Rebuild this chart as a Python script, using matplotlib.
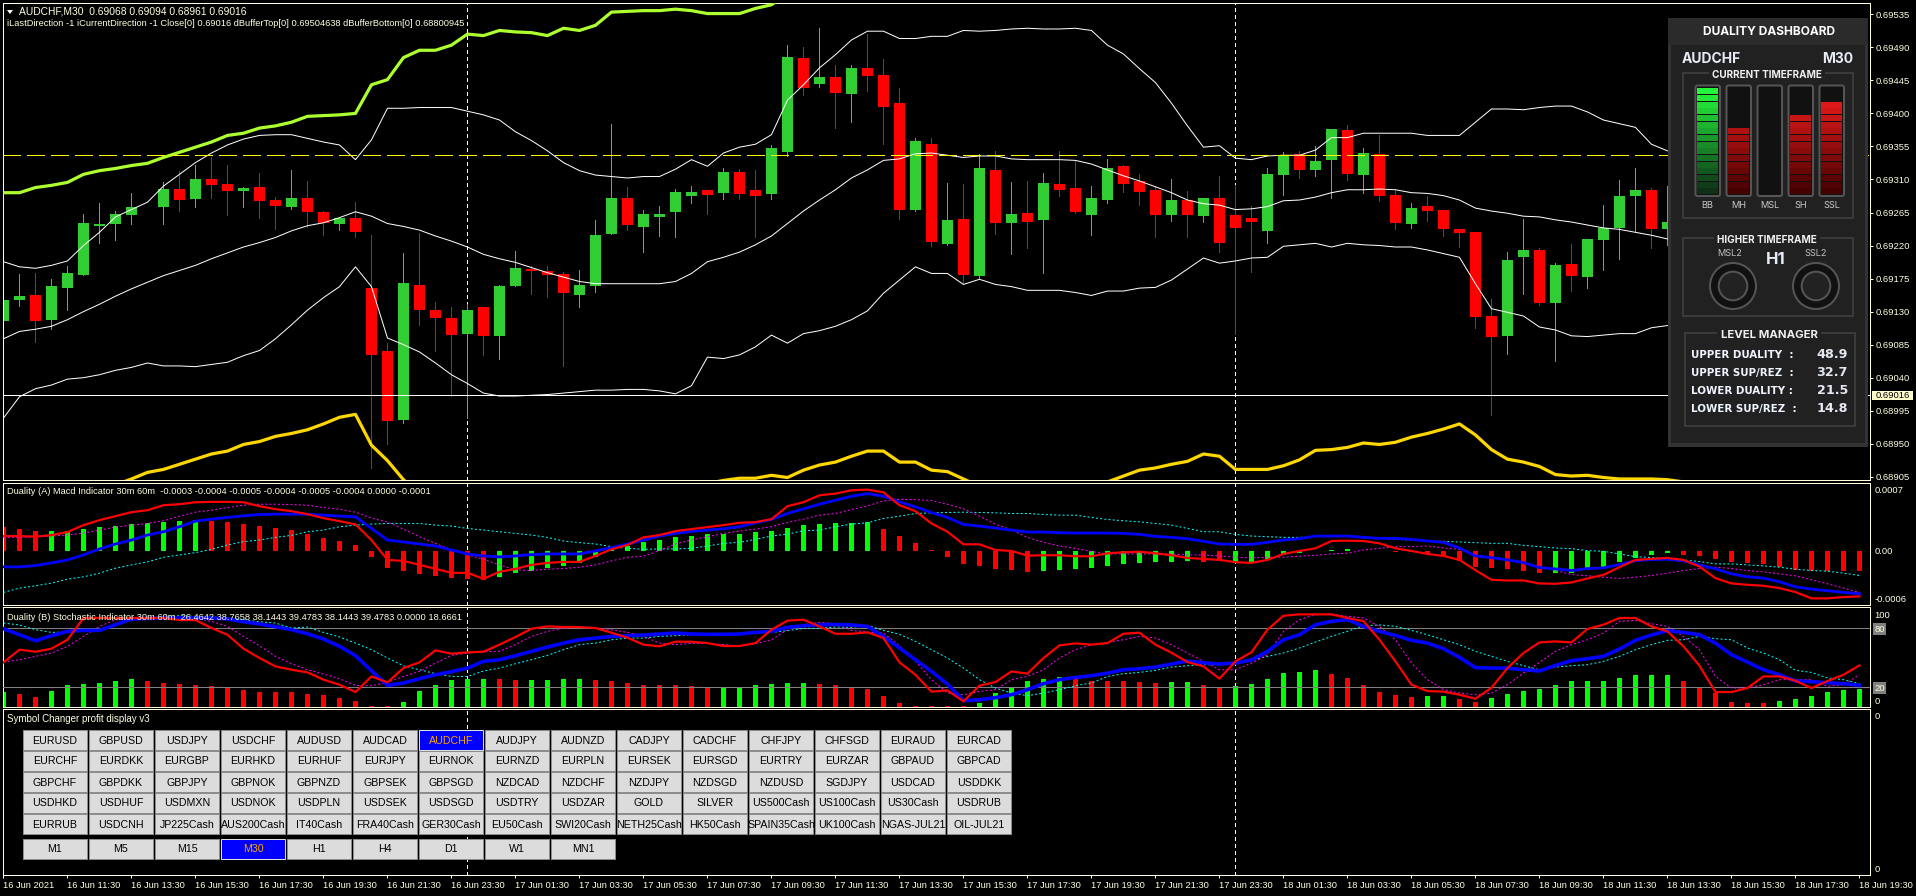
import numpy as np
import matplotlib
matplotlib.use('AGG')
import matplotlib.pyplot as plt
from matplotlib.patches import Rectangle, Circle, FancyBboxPatch, Polygon

W, H = 1916, 896
nan = np.nan

# candles, in 1e-5 price points (bars 0..104, the rest sits behind the dashboard)
candle_open = [
    69117,69146,69153,69119,69162,69180,69247,69249,69262,nan,69273,69297,69283,69311,69304,69294,69300,69282,69272,69285,69266,69249,69258,69162,69076,68982,69166,69132,69121,69100,69136,69097,69165,69188,69185,69181,69153,69165,69236,69285,
    69245,69259,69266,69287,69296,69292,69320,69296,69290,69347,69475,69440,69450,69426,69462,69452,69414,69268,69358,69222,69256,69179,69323,69251,69264,69255,69304,69298,69262,69282,69328,69308,69296,69262,69282,69260,69285,69262,69258,69240,
    69316,69345,69323,69337,69377,69316,69345,69289,69249,69274,69268,69243,69238,69124,69097,69204,69214,69142,69195,69177,69228,69244,69287,69296,69243]
candle_high = [
    69168,69181,69182,69174,69192,69263,69278,69267,69292,nan,69307,69322,69330,69340,69330,69300,69319,69286,69323,69308,69267,69258,69279,69234,69087,69210,69237,69143,69136,69140,69136,69166,69213,69192,69192,69184,69187,69255,69386,69300,
    69268,69274,69297,69301,69296,69326,69324,69323,69357,69493,69490,69516,69466,69466,69508,69474,69435,69367,69367,69305,69304,69345,69349,69307,69308,69319,69349,69335,69301,69338,69330,69317,69301,69311,69294,69285,69315,69302,69274,69326,
    69347,69349,69356,69379,69384,69353,69371,69296,69278,69287,69268,69243,69238,69147,69211,69256,69217,69196,69222,69229,69275,69309,69326,69298,69301]
candle_low = [
    69109,69138,69088,69106,69132,69180,69224,69228,69249,nan,69249,69267,69273,69285,69262,69273,69258,69243,69270,69245,69234,69241,69232,68917,68950,68978,69112,69076,69015,68985,69071,69065,69165,69154,69150,69056,69136,69157,69236,69241,
    69211,69233,69232,69278,69263,69283,69283,69232,69283,69342,69425,69436,69380,69388,69431,69358,69256,69267,69219,69221,69169,69174,69236,69208,69217,69183,69287,69264,69234,69278,69293,69275,69232,69254,69232,69252,69211,69100,69184,69223,
    69289,69312,69315,69285,69309,69292,69281,69243,69244,69254,69233,69218,69108,68989,69072,69154,69139,69063,69158,69162,69187,69202,69240,69217,69221]
candle_close = [
    69146,69151,69117,69165,69183,69251,69249,69263,69273,nan,69297,69282,69311,69302,69294,69298,69281,69274,69285,69266,69251,69258,69238,69071,68981,69169,69132,69121,69098,69132,69097,69165,69189,69185,69180,69155,69166,69234,69285,69248,
    69263,69263,69293,69293,69289,69320,69290,69287,69353,69477,69435,69450,69428,69462,69451,69409,69268,69362,69225,69255,69180,69326,69251,69263,69252,69305,69296,69266,69285,69326,69304,69293,69262,69282,69262,69285,69223,69244,69252,69317,
    69343,69323,69335,69379,69317,69346,69287,69251,69271,69267,69243,69237,69123,69095,69200,69214,69142,69194,69179,69229,69244,69287,69296,69243,69252]

# envelope lines on the price chart
duality_top = [
    69292,69292,69299,69302,69306,69317,69322,69325,69329,69332,69340,69347,69354,69361,69370,69373,69380,69383,69388,69396,69397,69398,69400,69439,69446,69476,69486,69486,69493,69508,69506,69513,69511,69510,69506,69516,69513,69520,69538,69539,
    69540,69540,69542,69540,69536,69536,69536,69543,69548,69564]
duality_bottom = [
    nan,nan,nan,nan,nan,nan,nan,68894,68902,68911,68915,68922,68929,68936,68940,68949,68953,68960,68964,68969,68977,68986,68990,68948,68927,68901,68882,nan,nan,nan,nan,nan,nan,nan,nan,nan,nan,nan,nan,nan,
    nan,nan,nan,nan,68896,68900,68903,68903,68907,68904,68914,68921,68925,68933,68940,68940,68925,68925,68914,68912,68902,68892,nan,nan,nan,nan,nan,nan,68893,68898,68906,68914,68917,68922,68926,68936,68933,68915,68915,68915,
    68920,68928,68941,68942,68945,68951,68949,68952,68959,68964,68970,68977,68962,68942,68929,68925,68919,68908,68906,68907,68904,68902,68902,68902,68901,68898]
bb_upper = [
    69198,69191,69189,69193,69199,69220,69238,69259,69269,69279,69301,69317,69333,69346,69357,69365,69370,69371,69371,69366,69361,69357,69337,69364,69407,69407,69408,69408,69408,69403,69398,69391,69375,69363,69349,69333,69322,69316,69314,69312,
    69314,69314,69324,69337,69328,69346,69354,69358,69371,69418,69439,69462,69480,69500,69512,69512,69502,69502,69505,69505,69513,69512,69513,69515,69516,69515,69515,69516,69513,69493,69481,69461,69442,69414,69383,69354,69356,69339,69337,69342,
    69343,69343,69350,69367,69367,69373,69373,69373,69373,69370,69370,69370,69388,69406,69406,69405,69408,69410,69410,69402,69391,69386,69381,69358,69349]
bb_middle = [
    69093,69103,69106,69110,69119,69130,69140,69151,69161,69170,69179,69186,69193,69202,69210,69218,69224,69231,69240,69247,69251,69258,69266,69260,69250,69246,69241,69233,69226,69218,69208,69202,69197,69190,69183,69177,69171,69168,69168,69168,
    69168,69168,69171,69182,69198,69204,69211,69221,69233,69250,69267,69282,69296,69312,69323,69336,69338,69345,69346,69343,69340,69342,69342,69338,69337,69337,69337,69336,69331,69323,69315,69308,69300,69292,69282,69277,69275,69269,69270,69273,
    69281,69282,69286,69292,69296,69296,69297,69296,69292,69291,69288,69282,69271,69267,69264,69260,69259,69255,69252,69248,69244,69242,69238,69234,69229]
bb_lower = [
    68985,69014,69025,69030,69038,69040,69044,69050,69054,69060,69056,69056,69055,69058,69061,69070,69077,69093,69112,69132,69149,69164,69191,69164,69094,69085,69075,69060,69044,69032,69019,69015,69015,69016,69017,69019,69021,69023,69023,69024,
    69024,69022,69018,69029,69068,69066,69071,69082,69098,69087,69100,69104,69110,69119,69131,69155,69173,69191,69182,69182,69167,69174,69167,69164,69159,69159,69159,69156,69152,69158,69158,69162,69163,69173,69188,69203,69196,69199,69203,69204,
    69219,69221,69223,69218,69223,69221,69220,69218,69218,69214,69209,69204,69168,69134,69129,69124,69109,69105,69097,69096,69098,69100,69100,69108,69111]

# macd panel, in 1e-6
macd_hist = [
    288,264,240,240,240,264,288,300,324,336,348,360,372,360,348,324,300,276,252,204,156,120,72,-72,-200,-240,-276,-300,-324,-336,-348,-312,-264,-240,-204,-180,-144,-72,24,60,
    108,132,168,180,204,204,204,228,240,276,312,324,336,336,348,264,180,96,12,-72,-156,-180,-216,-228,-252,-240,-228,-216,-204,-180,-156,-144,-132,-132,-120,-132,-120,-132,-132,-96,
    -48,-24,-6,8,24,-4,4,-8,-12,-36,-60,-120,-192,-204,-216,-240,-264,-264,-264,-228,-192,-132,-84,-48,-24,-48,-60,-96,-132,-144,-156,-192,-228,-240,-240,-240,-240]
macd_hist_dir = 'r'*3 + 'g'*10 + 'r'*18 + 'g'*24 + 'r'*10 + 'g'*10 + 'r'*2 + 'g'*8 + 'r'*12 + 'g'*8 + 'r'*12
macd_blue = [
    -192,-192,-176,-144,-108,-48,24,84,132,192,232,292,360,384,404,424,440,444,444,444,432,420,412,272,132,108,84,60,12,-36,-60,-72,-60,-44,-36,-36,-36,0,40,84,
    132,180,212,236,252,268,292,340,380,452,508,564,612,660,692,660,592,532,464,404,320,300,276,252,228,228,220,216,216,216,212,200,176,164,148,116,84,80,80,104,
    132,148,180,180,180,164,152,152,140,120,104,36,-60,-80,-108,-140,-200,-216,-236,-212,-204,-164,-116,-104,-100,-120,-168,-216,-276,-312,-328,-372,-432,-460,-480,-500,-516]
macd_red = [
    180,180,172,192,228,312,372,420,468,492,552,564,588,592,592,588,540,504,480,444,396,360,320,132,-108,-120,-168,-216,-264,-264,-336,-252,-216,-168,-144,-132,-132,-60,20,72,
    164,192,240,264,288,312,340,348,384,540,588,672,692,732,740,708,552,480,332,232,80,80,12,0,-56,-52,-52,-64,-64,-28,-16,-8,-28,-52,-84,-96,-108,-136,-144,-108,
    -36,0,32,120,124,120,92,32,0,-36,-60,-108,-232,-348,-356,-356,-392,-396,-380,-332,-288,-196,-108,-96,-84,-108,-188,-328,-392,-408,-420,-448,-496,-572,-572,-556,-548]
macd_magenta = [
    164,164,172,180,192,216,252,288,312,332,364,420,468,492,524,552,564,564,560,552,524,504,468,396,348,264,172,92,12,-48,-100,-168,-228,-236,-220,-212,-196,-168,-120,-76,
    -64,4,84,132,172,212,240,264,292,344,384,432,452,500,544,604,624,620,608,564,508,420,324,252,164,104,60,32,-8,-36,-36,-36,-36,-36,-48,-48,-60,-76,-84,-76,
    -76,-64,-52,-36,-28,12,32,52,52,60,36,20,-52,-76,-108,-144,-180,-236,-284,-300,-316,-332,-316,-296,-268,-236,-212,-196,-212,-236,-252,-276,-300,-348,-396,-448,-500]
macd_cyan = [
    -500,-448,-420,-388,-340,-312,-268,-208,-168,-132,-76,-48,-20,20,72,112,132,164,188,232,252,292,312,324,332,332,332,312,300,272,252,232,212,192,164,120,100,84,52,32,
    20,24,24,32,60,92,104,140,180,204,244,252,292,324,340,392,420,452,460,464,468,464,460,452,452,440,432,432,404,380,364,352,332,312,272,232,232,200,180,172,
    164,164,172,180,180,164,152,140,132,120,116,108,100,92,92,68,52,36,28,4,-4,-36,-68,-80,-92,-108,-128,-156,-156,-168,-180,-196,-220,-236,-244,-268,-296]

# stochastic panel
stoch_hist = [
    15.3,13.2,10.2,16.3,22.4,23.4,24.4,26.4,28.5,26.4,24.4,23.4,22.4,21.4,19.3,17.3,15.3,15.3,15.3,13.2,12.2,9.2,6.1,1.0,1.0,5.1,16.3,22.4,27.5,28.5,28.5,28.5,27.5,27.5,27.5,28.5,28.5,27.5,26.4,24.4,
    22.4,22.4,22.4,21.4,19.3,19.3,19.3,22.4,23.4,24.4,24.4,23.4,22.4,19.3,18.3,11.2,4.1,1.0,1.0,1.0,1.0,4.1,14.2,19.3,26.4,28.5,30.5,28.5,26.4,26.4,26.4,25.4,24.4,25.4,25.4,22.4,19.3,21.4,23.4,28.5,
    34.6,35.6,37.6,33.6,29.5,22.4,15.3,12.2,10.2,11.2,11.2,8.1,5.1,9.2,13.2,16.3,18.3,22.4,26.4,26.4,26.4,29.5,32.5,32.5,32.5,26.4,19.3,14.2,5.1,4.1,4.1,6.1,8.1,11.2,15.3,17.3,18.3]
stoch_hist_dir = 'g' + 'r'*2 + 'g'*6 + 'r'*16 + 'g'*6 + 'r'*2 + 'g'*4 + 'r'*8 + 'g'*6 + 'r'*10 + 'g'*6 + 'r'*6 + 'g'*2 + 'r'*2 + 'g'*6 + 'r'*6 + 'g'*2 + 'r'*2 + 'g'*12 + 'r'*6 + 'g'*6
stoch_blue = [
    79.3,73.2,67.1,72.2,76.6,77.6,77.6,83.4,89.2,89.8,90.2,90.2,90.2,90.2,89.2,86.4,84.1,81.4,78.3,74.2,68.8,61.4,51.9,36.6,21.7,24.1,28.5,32.5,35.6,39.3,46.1,47.8,51.9,56.3,60.7,64.7,68.1,69.8,71.5,72.2,
    72.9,73.9,74.9,73.9,73.6,73.6,73.9,75.6,76.6,80.7,82.4,83.1,83.7,83.1,81.7,71.5,59.7,47.8,35.9,23.1,6.1,7.1,9.2,12.2,17.3,23.4,27.5,29.8,31.5,34.2,37.6,38.6,40.3,43.4,46.4,44.7,43.4,44.4,47.5,56.3,
    68.1,73.2,83.4,86.8,88.5,81.7,76.6,72.5,67.5,64.7,59.0,50.2,39.7,39.3,39.3,37.6,36.3,42.0,46.8,48.8,51.2,58.6,67.5,72.9,77.3,75.6,73.2,64.7,52.9,45.4,37.6,32.5,26.1,25.4,24.4,23.4,21.7]
stoch_red = [
    45.1,58,55.9,59,68.1,90.2,90.2,90.2,90.2,90.2,90.2,88.1,88.1,80,73.2,59,49.5,41,37.6,34.9,27.5,22.4,14.9,30.8,24.7,39.3,45.1,57.3,53.9,55.3,55.9,63.1,70.9,79.3,81.7,81,81,80,75.3,70.2,
    63.1,61.4,66.1,66.1,64.7,61.7,61.7,64.7,78.3,87.5,88.5,81.7,74.2,74.2,75.6,69.8,45.1,32.5,15.3,16.6,5.4,21.4,25.1,35.9,33.6,49.5,62.4,64.4,63.1,64.7,74.2,75.3,63.1,54.9,45.4,41,28.5,46.1,55.3,78.3,
    92.5,93.9,93.9,93.9,90.2,87.1,68.1,46.1,22.4,15.9,15.3,12.2,8.1,19.3,39.3,54.6,65.4,66.4,65.4,79,83.4,90.2,90.2,81.7,76.6,61.4,41.7,14.9,14.9,19,30.8,30.8,26.4,19,26.1,32.5,42]
stoch_magenta = [
    45.4,47.8,51.2,54.6,61.4,71.5,81.7,88.5,88.5,90.2,90.2,90.2,90.2,86.8,81.7,71.5,62,51.2,43.7,37.6,33.2,28.5,21.7,21.4,24.7,30.8,35.9,44.4,52.2,54.6,55.9,56.3,63.1,71.5,76.6,80,81,80.3,78.3,75.6,
    71.5,64.7,63.1,64.4,64.4,63.1,61.7,64.1,68.1,78.3,83.4,85.8,84.4,77.6,75.9,74.9,62,46.1,27.5,13.9,12.2,15.6,17.3,27.5,30.8,37.6,49.5,58,63.1,65.4,68.1,71.5,69.8,63.1,54.6,46.1,37.6,37.6,44.4,52.9,
    76.6,88.5,93.6,94.2,91.9,90.2,81.7,68.1,44.4,27.5,17.3,13.9,12.2,13.9,22.4,34.2,45.1,56.3,63.1,68.1,74.9,86.8,87.8,84.4,81.7,71.5,58,30.8,19,19,22.4,27.5,27.5,27.5,20.7,22.4,32.5]
stoch_cyan = [
    85.1,83.1,78.3,75.6,75.9,77.6,79,83.4,88.5,89.2,91.9,92.5,91.9,91.2,90.5,88.5,86.4,85.1,80,81,75.6,70.9,64.7,58,49.5,41.7,37.6,33.6,30.8,30.8,36.3,39.3,43.7,47.8,52.2,58,63.1,64.7,68.1,69.8,
    69.8,71.5,72.2,73.2,72.9,74.2,74.2,74.9,75.6,77.3,79.7,79.7,81,80.7,82.7,77.6,73.6,66.4,58,49.5,39.3,27.5,19,13.9,11.2,13.9,17.3,21.4,24.1,30.8,33.6,34.9,37,40.3,41.7,42.7,42.7,44.4,47.5,51.2,
    54.6,59.7,65.8,71.5,76.6,82.4,83.1,81.7,77.6,73.2,68.1,63.1,56.3,51.2,46.1,41.7,37.6,40.3,41.7,42.7,46.1,51.2,58,63.1,67.5,68.1,71.5,69.2,68.1,59.7,54.6,47.8,37,34.9,29.2,27.5,23.4]

price_ticks = [0.69535, 0.69490, 0.69445, 0.69400, 0.69355, 0.69310, 0.69265, 0.69220, 0.69175,
               0.69130, 0.69085, 0.69040, 0.68995, 0.68950, 0.68905]
time_labels = ['16 Jun 2021', '16 Jun 11:30', '16 Jun 13:30', '16 Jun 15:30', '16 Jun 17:30', '16 Jun 19:30',
               '16 Jun 21:30', '16 Jun 23:30', '17 Jun 01:30', '17 Jun 03:30', '17 Jun 05:30', '17 Jun 07:30',
               '17 Jun 09:30', '17 Jun 11:30', '17 Jun 13:30', '17 Jun 15:30', '17 Jun 17:30', '17 Jun 19:30',
               '17 Jun 21:30', '17 Jun 23:30', '18 Jun 01:30', '18 Jun 03:30', '18 Jun 05:30', '18 Jun 07:30',
               '18 Jun 09:30', '18 Jun 11:30', '18 Jun 13:30', '18 Jun 15:30', '18 Jun 17:30', '18 Jun 19:30']

symbols = [
    ['EURUSD','GBPUSD','USDJPY','USDCHF','AUDUSD','AUDCAD','AUDCHF','AUDJPY','AUDNZD','CADJPY','CADCHF','CHFJPY','CHFSGD','EURAUD','EURCAD'],
    ['EURCHF','EURDKK','EURGBP','EURHKD','EURHUF','EURJPY','EURNOK','EURNZD','EURPLN','EURSEK','EURSGD','EURTRY','EURZAR','GBPAUD','GBPCAD'],
    ['GBPCHF','GBPDKK','GBPJPY','GBPNOK','GBPNZD','GBPSEK','GBPSGD','NZDCAD','NZDCHF','NZDJPY','NZDSGD','NZDUSD','SGDJPY','USDCAD','USDDKK'],
    ['USDHKD','USDHUF','USDMXN','USDNOK','USDPLN','USDSEK','USDSGD','USDTRY','USDZAR','GOLD','SILVER','US500Cash','US100Cash','US30Cash','USDRUB'],
    ['EURRUB','USDCNH','JP225Cash','AUS200Cash','IT40Cash','FRA40Cash','GER30Cash','EU50Cash','SWI20Cash','NETH25Cash','HK50Cash','SPAIN35Cash','UK100Cash','NGAS-JUL21','OIL-JUL21'],
]
timeframes = ['M1', 'M5', 'M15', 'M30', 'H1', 'H4', 'D1', 'W1', 'MN1']

gauge_names = ['BB', 'MH', 'MSL', 'SH', 'SSL']
gauge_levels = [16, 10, 0, 12, 14]
level_names = ['UPPER DUALITY  :', 'UPPER SUP/REZ  :', 'LOWER DUALITY :', 'LOWER SUP/REZ  :']
level_values = ['48.9', '32.7', '21.5', '14.8']

CREAM = '#FFFFE0'
PX = 0.72  # one pixel in points at dpi 100
DOTS = (0, (2, 2.2))

plt.rcParams['font.family'] = ['Liberation Sans', 'DejaVu Sans']
plt.rcParams['font.size'] = 6.7


def panel(top, bottom):
    ax = fig.add_axes([3 / W, 1 - bottom / H, (1870 - 3) / W, (bottom - top) / H])
    ax.set_facecolor('black')
    ax.set_xlim(-0.03, 116.66)
    ax.set_xticks([])
    ax.yaxis.tick_right()
    for s in ax.spines.values():
        s.set_color(CREAM)
        s.set_linewidth(PX)
    ax.tick_params(axis='y', colors=CREAM, length=0, pad=3, labelsize=6.8)
    # crosshair stays behind everything
    for bar in (29, 77):
        ax.axvline(bar, color='white', lw=PX, ls=(0, (3, 3)), zorder=1, antialiased=False)
    return ax


def line(ax, values, color, px=1.0, ls='-', scale=1.0, z=3):
    y = np.array(values, dtype=float) / scale
    ax.plot(np.arange(len(y)), y, color=color, lw=px * PX, ls=ls, zorder=z)


def hist(ax, values, dirs):
    colors = ['#00FF00' if d == 'g' else '#FF0000' for d in dirs]
    ax.bar(np.arange(len(values)), values, width=5 / 16, color=colors, zorder=2, antialiased=False)


fig = plt.figure(figsize=(W / 100, H / 100), dpi=100, facecolor='black')

# --- price chart ---
ax_price = panel(3, 480)
ax_price.set_ylim(0.689006, 0.695504)
o = np.array(candle_open) / 1e5
c = np.array(candle_close) / 1e5
hi = np.array(candle_high) / 1e5
lo = np.array(candle_low) / 1e5
x = np.arange(len(o))
candle_colors = ['#32CD32' if cc >= oo else '#FF0000' for oo, cc in zip(o, c)]
ax_price.vlines(x, lo, hi, colors=candle_colors, lw=PX, zorder=2, antialiased=False)
ax_price.bar(x, np.abs(c - o), bottom=np.minimum(o, c), width=11 / 16, color=candle_colors, zorder=2, antialiased=False)

line(ax_price, bb_upper, 'white', scale=1e5)
line(ax_price, bb_middle, 'white', scale=1e5)
line(ax_price, bb_lower, 'white', scale=1e5)
line(ax_price, duality_top, '#ADFF2F', px=3.2, scale=1e5)
line(ax_price, duality_bottom, '#FFD700', px=3.2, scale=1e5)
ax_price.axhline(0.69343, color='#FFFF00', lw=PX, ls=(0, (18, 6)), zorder=4, antialiased=False)
ax_price.axhline(0.69016, color='white', lw=PX, zorder=4, antialiased=False)
ax_price.set_yticks(price_ticks)
ax_price.set_yticklabels(['%.5f' % p for p in price_ticks])
ax_price.tick_params(axis='y', length=3 * PX, width=PX, pad=3 * PX)

# --- macd ---
ax_macd = panel(483, 605)
ax_macd.set_ylim(-652, 820)
hist(ax_macd, macd_hist, macd_hist_dir)
line(ax_macd, macd_cyan, '#00FFFF', ls=DOTS)
line(ax_macd, macd_magenta, '#FF00FF', ls=DOTS)
line(ax_macd, macd_blue, '#0000FF', px=2.8)
line(ax_macd, macd_red, '#FF0000', px=2.2)
ax_macd.set_yticks([740, 0, -572])
ax_macd.set_yticklabels(['0.0007', '0.00', '-0.0006'])

# --- stochastic ---
ax_stoch = panel(607, 707)
ax_stoch.set_ylim(-0.3, 101.4)
hist(ax_stoch, stoch_hist, stoch_hist_dir)
ax_stoch.axhline(80, color='#808080', lw=PX, zorder=3, antialiased=False)
ax_stoch.axhline(20, color='#808080', lw=PX, zorder=3, antialiased=False)
line(ax_stoch, stoch_cyan, '#00FFFF', ls=DOTS)
line(ax_stoch, stoch_magenta, '#FF00FF', ls=DOTS)
line(ax_stoch, stoch_blue, '#0000FF', px=3.6)
line(ax_stoch, stoch_red, '#FF0000', px=2.2)
ax_stoch.set_yticks([94.2, 80, 20, 6.4])
ticklabels = ax_stoch.set_yticklabels(['100', '80', '20', '0'])
for t in ticklabels[1:3]:
    t.set_bbox(dict(facecolor='#808080', edgecolor='none', pad=1))

# --- symbol changer ---
ax_sym = panel(709, 875)
ax_sym.set_ylim(0, 1)
ax_sym.set_yticks([0.958, 0.04])
ax_sym.set_yticklabels(['0', '0'])
ax_sym.set_xticks(np.arange(len(time_labels)) * 4)
ax_sym.set_xticklabels(time_labels, ha='left')
ax_sym.tick_params(axis='x', colors=CREAM, length=3 * PX, width=PX, pad=2, labelsize=6.7)

# --- everything laid out in screen pixels goes on an overlay ---
ov = fig.add_axes([0, 0, 1, 1], zorder=10)
ov.set_xlim(0, W)
ov.set_ylim(H, 0)
ov.axis('off')
ov.patch.set_alpha(0)

ov.add_patch(Polygon([[7, 10], [13, 10], [10, 14]], closed=True, color='white', lw=0))
ov.text(19, 11, 'AUDCHF,M30  0.69068 0.69094 0.68961 0.69016', color=CREAM, va='center', fontsize=7.4)
ov.text(7, 24, 'iLastDirection -1 iCurrentDirection -1 Close[0] 0.69016 dBufferTop[0] 0.69504638 dBufferBottom[0] 0.68800945', color=CREAM, va='center')
ov.text(7, 492, 'Duality (A) Macd Indicator 30m 60m  -0.0003 -0.0004 -0.0005 -0.0004 -0.0005 -0.0004 0.0000 -0.0001', color=CREAM, va='center')
ov.text(7, 617, 'Duality (B) Stochastic Indicator 30m 60m  26.4642 38.7658 38.1443 39.4783 38.1443 39.4783 0.0000 18.6661', color=CREAM, va='center')
ov.text(7, 719, 'Symbol Changer profit display v3', color=CREAM, va='center', fontsize=7.0)

# current price tag
ov.add_patch(Rectangle((1872, 391), 41, 9.5, facecolor='#FFFFCC', edgecolor='none'))
ov.text(1892.5, 395.5, '0.69016', color='black', ha='center', va='center', fontsize=6.8)


def button(px, py, label, selected):
    face = '#0000FF' if selected else '#DCDCDC'
    edge = '#E0E0E0' if selected else '#8C8C8C'
    rect = Rectangle((px, py), 64.5, 20, facecolor=face, edgecolor=edge, lw=PX)
    ov.add_patch(rect)
    t = ov.text(px + 32, py + 10.5, label, color='#FFA500' if selected else 'black',
                ha='center', va='center', fontsize=7.7)
    t.set_clip_path(rect)


for r, row in enumerate(symbols):
    for k, name in enumerate(row):
        button(23 + 66 * k, 730 + 21 * r, name, name == 'AUDCHF')
for k, name in enumerate(timeframes):
    button(23 + 66 * k, 839, name, name == 'M30')

# --- dashboard ---
ov.add_patch(Rectangle((1668, 18), 200, 429, facecolor='#333333', edgecolor='none'))
ov.add_patch(Rectangle((1668, 18), 200, 27, facecolor='#2B2B2B', edgecolor='none'))
ov.add_patch(Rectangle((1671, 45), 194, 398, facecolor='#212121', edgecolor='none'))
ov.text(1769, 32, 'DUALITY DASHBOARD', color='white', family='Inter', weight='bold', fontsize=8.6, ha='center', va='center')
ov.text(1682, 59, 'AUDCHF', color='#E6EBF5', family='Inter', weight='bold', fontsize=10, va='center')
ov.text(1853, 59, 'M30', color='#E6EBF5', family='Inter', weight='bold', fontsize=10, ha='right', va='center')


def group_box(x0, y0, x1, y1, title, size=7.6):
    ov.add_patch(Rectangle((x0, y0), x1 - x0, y1 - y0, facecolor='none', edgecolor='#3A3A3A', lw=2 * PX))
    ov.text((x0 + x1) / 2 - 1, y0 + 2, title, color='#F0F0F0', family='Inter', weight='bold', fontsize=size,
            ha='center', va='center', bbox=dict(facecolor='#212121', edgecolor='none', pad=2.5))


group_box(1683, 73, 1853, 218, 'CURRENT TIMEFRAME', 7.2)
group_box(1683, 238, 1853, 316, 'HIGHER TIMEFRAME', 7.2)
group_box(1685, 333, 1855, 426, 'LEVEL MANAGER', 8.2)

green_low, green_high = np.array([0x0E, 0x30, 0x16]), np.array([0x24, 0xF5, 0x3C])
red_low, red_high = np.array([0x45, 0x00, 0x00]), np.array([0xF5, 0x1C, 0x1C])
for g, (name, level) in enumerate(zip(gauge_names, gauge_levels)):
    gx = 1695.5 + 31 * g
    ov.add_patch(FancyBboxPatch((gx, 85.5), 24.5, 110.5, boxstyle='round,pad=0,rounding_size=2',
                                facecolor='#111111', edgecolor='#555555', lw=2 * PX))
    low, high = (green_low, green_high) if g == 0 else (red_low, red_high)
    for j in range(level):
        col = (low + (high - low) * j / 15) / 255
        ov.add_patch(Rectangle((gx + 1.8, 194.3 - 6.67 * (j + 1) + 0.8), 21, 5.9, facecolor=col, edgecolor='none'))
    ov.text(gx + 12.2, 205, name, color='#C8C8C8', family='Inter', fontsize=6.6, ha='center', va='center')

for cx, name in zip((1733, 1816), ('MSL2', 'SSL2')):
    ov.add_patch(Circle((cx, 286), 23, facecolor='#111111', edgecolor='#555555', lw=2 * PX))
    ov.add_patch(Circle((cx, 286), 14.3, facecolor='#222222', edgecolor='#555555', lw=2 * PX))
    ov.text(cx - 3 if cx < 1800 else cx, 254, name, color='#BEBEBE', family='Inter', fontsize=6.6, ha='center', va='center')
ov.text(1776, 260, 'H1', color='#E6EBF5', family='Inter', weight='bold', fontsize=12, ha='center', va='center')

for r, (name, val) in enumerate(zip(level_names, level_values)):
    ry = 355 + 18 * r
    ov.text(1691, ry, name, color='#F0F4FF', family='DejaVu Sans', weight='bold', fontsize=7.4, va='center')
    ov.text(1848, ry, val, color='#E4E8F0', family='DejaVu Sans', weight='bold', fontsize=9.2, ha='right', va='center')

fig.savefig('out.png', dpi=100, facecolor='black')
plt.close(fig)
